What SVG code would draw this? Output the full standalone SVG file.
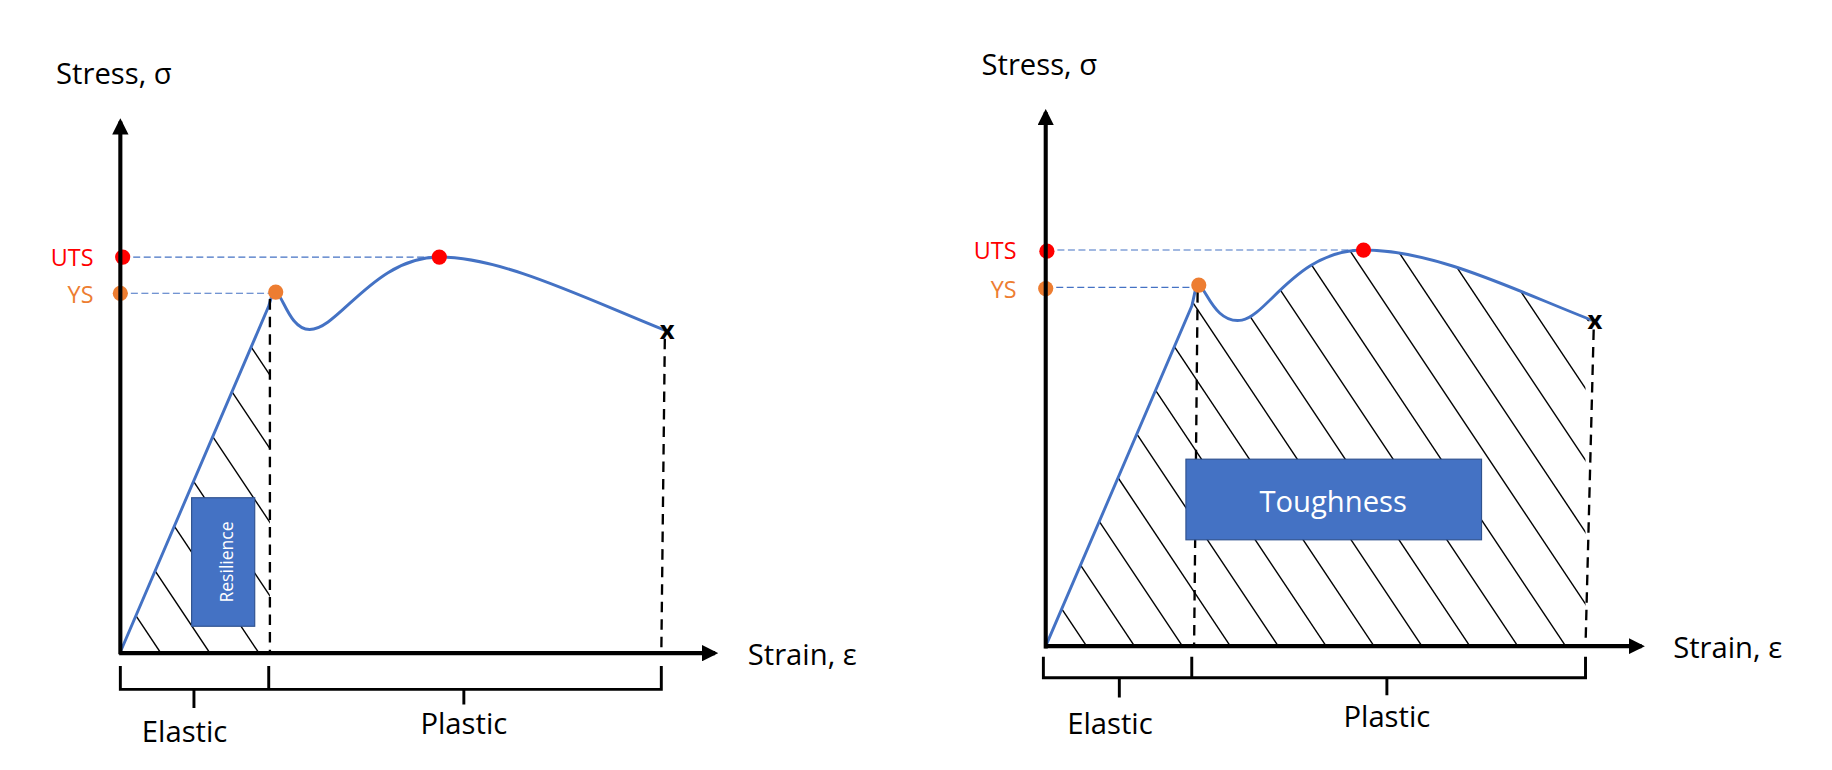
<svg xmlns="http://www.w3.org/2000/svg" width="1832" height="770" viewBox="0 0 1832 770">
<style>
text{font-family:"Open Sans","Liberation Sans",sans-serif;}
.lbl{font-size:25px;fill:#000}
.uts{font-size:20px;fill:#f00}
.ys{font-size:20px;fill:#ed7d31}
.axis{stroke:#000;stroke-width:3.5;fill:none}
.br{stroke:#000;stroke-width:2.5;fill:none}
.vd{stroke:#000;stroke-width:2;stroke-dasharray:9 6;fill:none}
.hd{stroke:#4472c4;stroke-width:1;stroke-dasharray:6 3;fill:none}
.curve{stroke:#4472c4;stroke-width:2.5;fill:none}
.hatch line{stroke:#000;stroke-width:1.2}
.box{fill:#4472c4;stroke:#2f528f;stroke-width:1}
.xm{font-size:22px;font-weight:bold;fill:#000}
</style>
<defs>
<marker id="ah" viewBox="0 0 10 10" refX="8" refY="5" markerWidth="4" markerHeight="4" orient="auto"><path d="M0,0 L10,5 L0,10 z" fill="#000"/></marker>
<clipPath id="cl"><path d="M103,558 L230,262 C232,255 233,250 236,250 L231,251 L231,558 Z"/></clipPath>
<clipPath id="cr"><path d="M895,553 L1020,262 C1023,250 1023,244 1026,244 C1032,246 1040,278 1063,274 C1085,270 1110,214 1167,214 C1230,214 1300,250 1365,275 L1357,275 L1357,553 Z"/></clipPath>
</defs>
<g transform="scale(1.1684)">
<g id="left-chart">
<g class="hatch" clip-path="url(#cl)">
<line x1="-163" y1="108" x2="137" y2="558"/><line x1="-121" y1="108" x2="179" y2="558"/><line x1="-79" y1="108" x2="221" y2="558"/><line x1="-37" y1="108" x2="263" y2="558"/><line x1="5" y1="108" x2="305" y2="558"/><line x1="47" y1="108" x2="347" y2="558"/><line x1="89" y1="108" x2="389" y2="558"/><line x1="131" y1="108" x2="431" y2="558"/>
</g>
<line class="hd" x1="105" y1="220" x2="376" y2="220"/>
<line class="hd" x1="103" y1="251" x2="236" y2="251"/>
<path class="curve" d="M103,558 L230,262 C232,255 233,250 236,250 C242,252 248,282 265,282 C290,282 320,220 376,220 C430,220 500,255 570,283"/>
<line class="vd" x1="231" y1="256" x2="231" y2="560"/>
<line class="vd" x1="569" y1="290" x2="566" y2="560"/>
<text class="xm" x="571" y="290" text-anchor="middle">x</text>
<circle cx="105" cy="220" r="6.5" fill="#f00"/><circle cx="376" cy="220" r="6.5" fill="#f00"/>
<circle cx="103" cy="251" r="6.5" fill="#ed7d31"/><circle cx="236" cy="250" r="6.5" fill="#ed7d31"/>
<path class="axis" d="M103,560 V104" marker-end="url(#ah)"/>
<path class="axis" d="M102,559 H612" marker-end="url(#ah)"/>
<path class="br" d="M103,570 V590 H566 V570 M230,570 V590 M166,590 V606 M397,590 V603"/>
<text class="lbl" x="48" y="72">Stress, σ</text>
<text class="lbl" x="640" y="569">Strain, ε</text>
<text class="lbl" x="158" y="635" text-anchor="middle">Elastic</text>
<text class="lbl" x="397" y="628" text-anchor="middle">Plastic</text>
<text class="uts" x="80" y="228" text-anchor="end">UTS</text>
<text class="ys" x="80" y="259" text-anchor="end">YS</text>
</g>
<g id="resilience"><rect class="box" x="164" y="426" width="54" height="110"/>
<text x="197" y="481" transform="rotate(-90 197 481)" text-anchor="middle" dy="-2" style="font-size:15px;fill:#fff" dominant-baseline="middle">Resilience</text></g>
<g id="right-chart">
<g clip-path="url(#cr)"><g class="hatch">
<line x1="630" y1="103" x2="930" y2="553"/><line x1="671" y1="103" x2="971" y2="553"/><line x1="712" y1="103" x2="1012" y2="553"/><line x1="753" y1="103" x2="1053" y2="553"/><line x1="794" y1="103" x2="1094" y2="553"/><line x1="835" y1="103" x2="1135" y2="553"/><line x1="876" y1="103" x2="1176" y2="553"/><line x1="917" y1="103" x2="1217" y2="553"/><line x1="958" y1="103" x2="1258" y2="553"/><line x1="999" y1="103" x2="1299" y2="553"/><line x1="1040" y1="103" x2="1340" y2="553"/><line x1="1081" y1="103" x2="1381" y2="553"/><line x1="1122" y1="103" x2="1422" y2="553"/><line x1="1163" y1="103" x2="1463" y2="553"/><line x1="1204" y1="103" x2="1504" y2="553"/><line x1="1245" y1="103" x2="1545" y2="553"/><line x1="1286" y1="103" x2="1586" y2="553"/><line x1="1327" y1="103" x2="1627" y2="553"/>
</g></g>
<line class="hd" x1="896" y1="214" x2="1167" y2="214"/>
<line class="hd" x1="895" y1="246" x2="1026" y2="246"/>
<path class="curve" d="M895,553 L1020,262 C1023,250 1023,244 1026,244 C1032,246 1040,278 1063,274 C1085,270 1110,214 1167,214 C1230,214 1300,250 1365,275"/>
<line class="vd" x1="1025" y1="250" x2="1022" y2="553"/>
<line class="vd" x1="1364" y1="282" x2="1357" y2="553"/>
<text class="xm" x="1365" y="282" text-anchor="middle">x</text>
<circle cx="896" cy="215" r="6.5" fill="#f00"/><circle cx="1167" cy="214" r="6.5" fill="#f00"/>
<circle cx="895" cy="247" r="6.5" fill="#ed7d31"/><circle cx="1026" cy="244" r="6.5" fill="#ed7d31"/>
<path class="axis" d="M895,555 V96" marker-end="url(#ah)"/>
<path class="axis" d="M894,553 H1405" marker-end="url(#ah)"/>
<path class="br" d="M893,562 V580 H1357 V562 M1020,562 V580 M958,580 V597 M1187,580 V595"/>
<text class="lbl" x="840" y="64">Stress, σ</text>
<text class="lbl" x="1432" y="563">Strain, ε</text>
<text class="lbl" x="950" y="628" text-anchor="middle">Elastic</text>
<text class="lbl" x="1187" y="622" text-anchor="middle">Plastic</text>
<text class="uts" x="870" y="222" text-anchor="end">UTS</text>
<text class="ys" x="870" y="255" text-anchor="end">YS</text>
</g>
<g id="toughness"><rect class="box" x="1015" y="393" width="253" height="69"/>
<text x="1141" y="438" text-anchor="middle" style="font-size:25px;fill:#fff">Toughness</text></g>
</g>
</svg>
